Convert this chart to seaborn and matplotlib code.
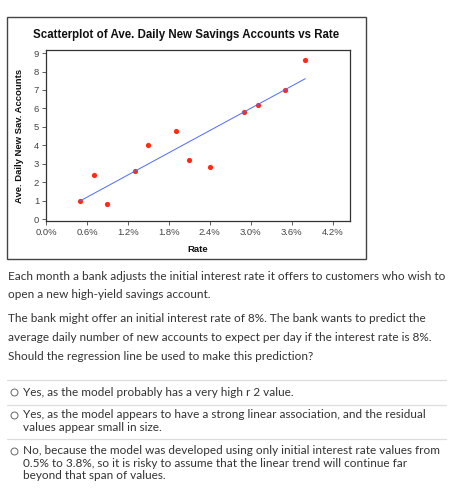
import matplotlib
matplotlib.use("Agg")
from matplotlib import pyplot as plt
from matplotlib.lines import Line2D
from matplotlib.patches import Rectangle
from matplotlib.ticker import FuncFormatter
import pandas as pd
import seaborn as sns

rate = [0.5, 0.7, 0.9, 1.3, 1.5, 1.9, 2.1, 2.4, 2.9, 3.1, 3.5, 3.8]
accounts = [1.0, 2.4, 0.8, 2.6, 4.0, 4.8, 3.2, 2.8, 5.8, 6.2, 7.0, 8.6]
x_ticks = [0.0, 0.6, 1.2, 1.8, 2.4, 3.0, 3.6, 4.2]
y_ticks = list(range(10))

question = [
    "Each month a bank adjusts the initial interest rate it offers to customers who wish to",
    "open a new high-yield savings account.",
]
question2 = [
    "The bank might offer an initial interest rate of 8%. The bank wants to predict the",
    "average daily number of new accounts to expect per day if the interest rate is 8%.",
    "Should the regression line be used to make this prediction?",
]
options = [
    ["Yes, as the model probably has a very high r 2 value."],
    ["Yes, as the model appears to have a strong linear association, and the residual",
     "values appear small in size."],
    ["No, because the model was developed using only initial interest rate values from",
     "0.5% to 3.8%, so it is risky to assume that the linear trend will continue far",
     "beyond that span of values."],
]

df = pd.DataFrame({"Rate": rate, "Accounts": accounts})

W, H = 452, 492
sns.set_style("white")
plt.rcParams["font.family"] = ["Liberation Sans", "DejaVu Sans"]

fig = plt.figure(figsize=(W / 100, H / 100), dpi=100)


def px(x, y):
    return x / W, 1 - y / H


# box around the chart
fig.add_artist(Rectangle(px(7, 259), 359 / W, 242 / H, transform=fig.transFigure,
                         fill=False, edgecolor="#444444", linewidth=1.0))

ax = fig.add_axes([46 / W, 1 - 221 / H, (349.7 - 46) / W, (221 - 50.3) / H])
sns.regplot(data=df, x="Rate", y="Accounts", ci=None, ax=ax,
            scatter_kws={"color": "#ff2a10", "s": 14, "linewidths": 0, "alpha": 1},
            line_kws={"color": "#4d6bff", "linewidth": 0.7})
ax.set_xlim(0, 4.45)
ax.set_ylim(-0.1, 9.15)
ax.set_xticks(x_ticks)
ax.set_yticks(y_ticks)
ax.xaxis.set_major_formatter(FuncFormatter(lambda v, p: f"{v:.1f}%"))
ax.tick_params(axis="both", labelsize=6.8, colors="#444444", length=3, width=0.6,
               direction="out", bottom=True, left=True, pad=2)
for s in ax.spines.values():
    s.set_color("#333333")
    s.set_linewidth(0.9)
ax.set_xlabel("Rate", fontsize=6.8, fontweight="bold", labelpad=6, color="#111111")
ax.set_ylabel("Ave. Daily New Sav. Accounts", fontsize=6.8, fontweight="bold",
              labelpad=7, color="#111111")

fig.text(*px(186, 35), "Scatterplot of Ave. Daily New Savings Accounts vs Rate",
         fontsize=8.3, fontweight="bold", ha="center", va="center", color="#111111")

# question text
body = ["Lato", "DejaVu Sans"]
tc = "#333333"
for i, line in enumerate(question):
    fig.text(*px(8, 277 + 18 * i), line, family=body, fontsize=8.5, color=tc, va="center")
for i, line in enumerate(question2):
    fig.text(*px(8, 319 + 18.5 * i), line, family=body, fontsize=8.5, color=tc, va="center")

# answer options
seps = [380, 405, 439]
for y in seps:
    fig.add_artist(Line2D([7 / W, 446 / W], [1 - y / H, 1 - y / H], transform=fig.transFigure,
                          color="#dddddd", linewidth=0.9))
starts = [392, 415, 451]
for opt, y0 in zip(options, starts):
    fig.add_artist(Line2D([14 / W], [1 - y0 / H], transform=fig.transFigure, marker="o",
                          markersize=5, markerfacecolor="white", markeredgecolor="#666666",
                          markeredgewidth=0.7, linestyle="none"))
    for j, line in enumerate(opt):
        fig.text(*px(23, y0 + 12.2 * j), line, family=body, fontsize=8.5, color=tc, va="center")

fig.savefig("out.png", dpi=100, facecolor="white")
